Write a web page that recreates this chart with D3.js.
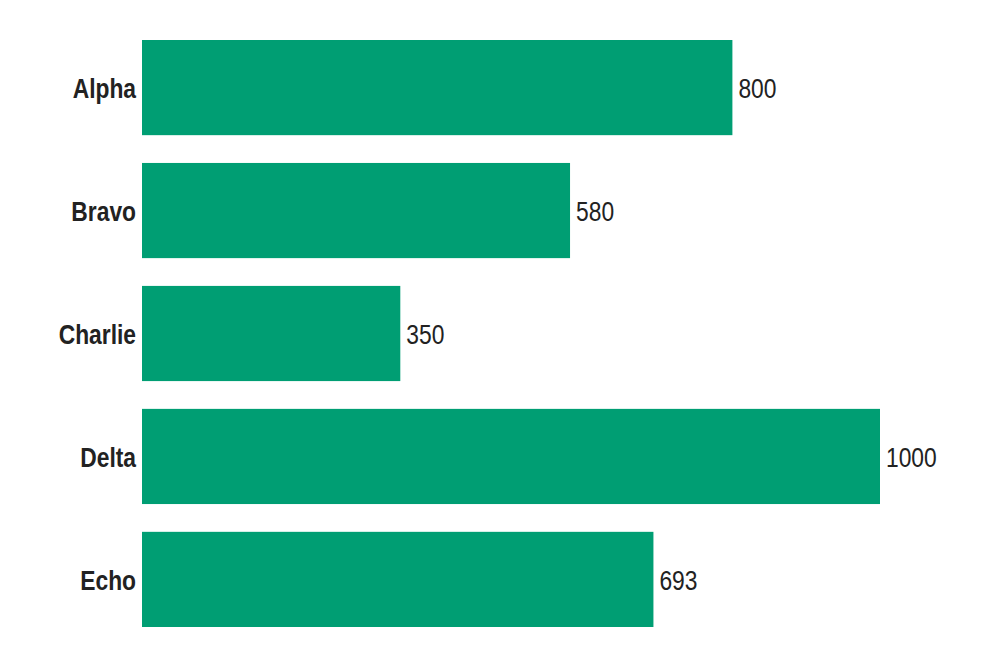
<!DOCTYPE html>
<html>
<head>
<meta charset="utf-8">
<script src="https://cdn.jsdelivr.net/npm/d3@7"></script>
<style>
  body { margin: 0; background: #fff; }
  text { font-family: "Liberation Sans Narrow", "Liberation Sans", sans-serif; }
</style>
</head>
<body>
<div id="wrapper"></div>
<script>
const categories = ['Alpha', 'Bravo', 'Charlie', 'Delta', 'Echo']
const values = [800, 580, 350, 1000, 693]

// no narrow face installed, so squeeze the regular one
const narrow = 0.845

function drawBars() {
  const data = categories.map((c, i) => ({ name: c, value: values[i] }))
  const xAccessor = d => d.value
  const yAccessor = d => d.name

  const dimensions = {
    width: 1000,
    height: 667,
    margin: {
      top: 40,
      right: 120,
      bottom: 40,
      left: 142,
    }
  }
  dimensions.boundedWidth = dimensions.width
    - dimensions.margin.left
    - dimensions.margin.right
  dimensions.boundedHeight = dimensions.height
    - dimensions.margin.top
    - dimensions.margin.bottom

  const wrapper = d3.select('#wrapper')
    .append('svg')
      .attr('width', dimensions.width)
      .attr('height', dimensions.height)

  const bounds = wrapper.append('g')
      .attr('transform', `translate(${dimensions.margin.left},${dimensions.margin.top})`)

  const xScale = d3.scaleLinear()
      .domain([0, 1000])
      .range([0, 738])

  const yScale = d3.scaleBand()
      .domain(categories)
      .range([0, dimensions.boundedHeight])
      .paddingInner(0.226)
      .paddingOuter(0)

  bounds.selectAll('rect')
    .data(data)
    .join('rect')
      .attr('x', 0)
      .attr('y', d => yScale(yAccessor(d)))
      .attr('width', d => xScale(xAccessor(d)))
      .attr('height', yScale.bandwidth())
      .attr('fill', '#009E73')

  bounds.selectAll('text.value')
    .data(data)
    .join('text')
      .attr('class', 'value')
      .attr('transform', d => `translate(${xScale(xAccessor(d)) + 6},${
        yScale(yAccessor(d)) + yScale.bandwidth() / 2
      }) scale(${narrow},1)`)
      .attr('dy', '0.4em')
      .style('font-size', '27px')
      .attr('fill', '#222')
      .text(d => xAccessor(d))

  const yAxis = bounds.append('g')
      .call(d3.axisLeft(yScale).tickSize(0).tickPadding(6))
  yAxis.attr('font-family', null)
  yAxis.select('.domain').remove()
  yAxis.selectAll('text')
      .attr('x', -6 / narrow)
      .attr('dy', '0.4em')
      .attr('transform', `scale(${narrow},1)`)
      .style('font-size', '27px')
      .style('font-weight', 'bold')
      .attr('fill', '#222')
}

drawBars()
</script>
</body>
</html>
